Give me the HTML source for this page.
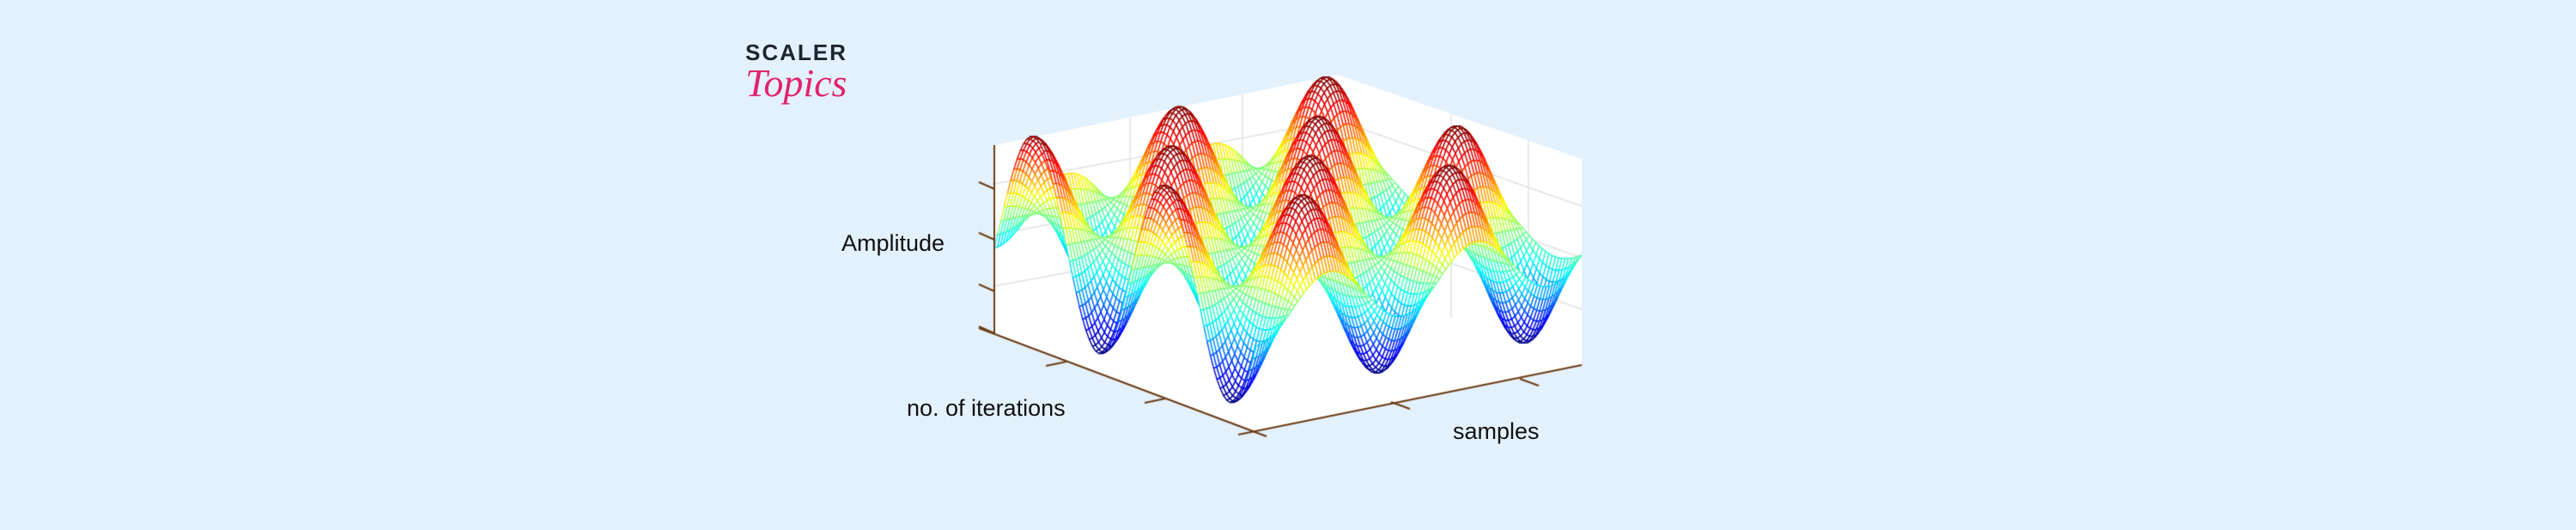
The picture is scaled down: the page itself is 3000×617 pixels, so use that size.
<!DOCTYPE html>
<html><head><meta charset="utf-8"><style>
html,body{margin:0;padding:0;background:#e3f1fd;}
#w{position:relative;width:3000px;height:617px;overflow:hidden;background:#e3f1fd;font-family:"Liberation Sans",sans-serif;}
canvas{position:absolute;left:0;top:0;}
.t{position:absolute;color:#111;font-size:27px;white-space:nowrap;}
</style></head><body><div id="w">
<canvas id="c" width="3000" height="617"></canvas>
<div style="position:absolute;left:868px;top:46px;font-size:26px;font-weight:bold;letter-spacing:2px;color:#1c2430;">SCALER</div>
<div style="position:absolute;left:868px;top:70px;font-size:46px;font-style:italic;font-family:'Liberation Serif',serif;color:#e0246e;">Topics</div>
<div class="t" style="left:980px;top:268px;">Amplitude</div>
<div class="t" style="left:1056px;top:460px;">no. of iterations</div>
<div class="t" style="left:1692px;top:487px;">samples</div>
</div>
<script>
const c=document.getElementById('c'),g=c.getContext('2d');
const O=[1463,502],DU=[379,-77],DV=[-305,-114],M=134,A=112;
function P(u,v,z){return [O[0]+u*DU[0]+v*DV[0], O[1]+u*DU[1]+v*DV[1]-M-z*A];}
g.fillStyle='#fff';g.beginPath();
g.moveTo(1463,502);g.lineTo(1842,425);g.lineTo(1842,185);g.lineTo(1558,87);g.lineTo(1158,169);g.lineTo(1158,388);g.closePath();g.fill();
g.strokeStyle='#e2e2e2';g.lineWidth=1.5;
[[1316,137,1316,355],[1447,110,1447,330],[1690,133,1690,370],[1780,163,1780,400]].forEach(l=>{g.beginPath();g.moveTo(l[0],l[1]);g.lineTo(l[2],l[3]);g.stroke();});
[[1158,214,1558,140],[1158,273,1558,200],[1158,333,1558,260],[1558,140,1842,240],[1558,200,1842,300],[1558,260,1842,360]].forEach(l=>{g.beginPath();g.moveTo(l[0],l[1]);g.lineTo(l[2],l[3]);g.stroke();});
function jet(t){t=Math.max(0,Math.min(1,t));
 const r=Math.max(0,Math.min(1,1.5-Math.abs(4*t-3))),gg=Math.max(0,Math.min(1,1.5-Math.abs(4*t-2))),b=Math.max(0,Math.min(1,1.5-Math.abs(4*t-1)));
 return 'rgb('+(r*255|0)+','+(gg*255|0)+','+(b*255|0)+')';}
function Z(u,v){return -Math.cos(2*Math.PI*u/0.45)*Math.cos(2*Math.PI*(v-0.1)/0.5);}
const NU=110,NV=80;const G=[];
for(let i=0;i<=NU;i++){G[i]=[];for(let j=0;j<=NV;j++){let u=i/NU,v=j/NV,z=Z(u,v);G[i][j]=[P(u,v,z),z];}}
const Q=[];for(let i=0;i<NU;i++)for(let j=0;j<NV;j++)Q.push([i,j]);
Q.sort((a,b)=>(b[0]/NU+b[1]/NV)-(a[0]/NU+a[1]/NV));
g.lineWidth=1.4;
for(const [i,j] of Q){const a=G[i][j],b=G[i+1][j],cc=G[i+1][j+1],d=G[i][j+1];
 g.fillStyle='#fff';g.beginPath();g.moveTo(a[0][0],a[0][1]);g.lineTo(b[0][0],b[0][1]);g.lineTo(cc[0][0],cc[0][1]);g.lineTo(d[0][0],d[0][1]);g.closePath();g.fill();
 g.strokeStyle=jet((a[1]+1)/2);g.beginPath();g.moveTo(d[0][0],d[0][1]);g.lineTo(a[0][0],a[0][1]);g.lineTo(b[0][0],b[0][1]);g.stroke();
 g.strokeStyle=jet((cc[1]+1)/2);g.beginPath();g.moveTo(b[0][0],b[0][1]);g.lineTo(cc[0][0],cc[0][1]);g.lineTo(d[0][0],d[0][1]);g.stroke();}
g.strokeStyle='#6b3b12';g.lineWidth=2;
g.beginPath();g.moveTo(1158,169);g.lineTo(1158,388);g.stroke();
[214,273,333,382].forEach(y=>{g.beginPath();g.moveTo(1158,y+6);g.lineTo(1140,y-2);g.stroke();});
g.beginPath();g.moveTo(1140,382);g.lineTo(1475,508);g.stroke();
[[1230,423],[1345,466]].forEach(p=>{g.beginPath();g.moveTo(p[0]+12,p[1]-2);g.lineTo(p[0]-12,p[1]+3);g.stroke();});
g.beginPath();g.moveTo(1442,506);g.lineTo(1842,425);g.stroke();
[[1630,472],[1780,445]].forEach(p=>{g.beginPath();g.moveTo(p[0]-10,p[1]-4);g.lineTo(p[0]+12,p[1]+4);g.stroke();});
</script>
</body></html>
